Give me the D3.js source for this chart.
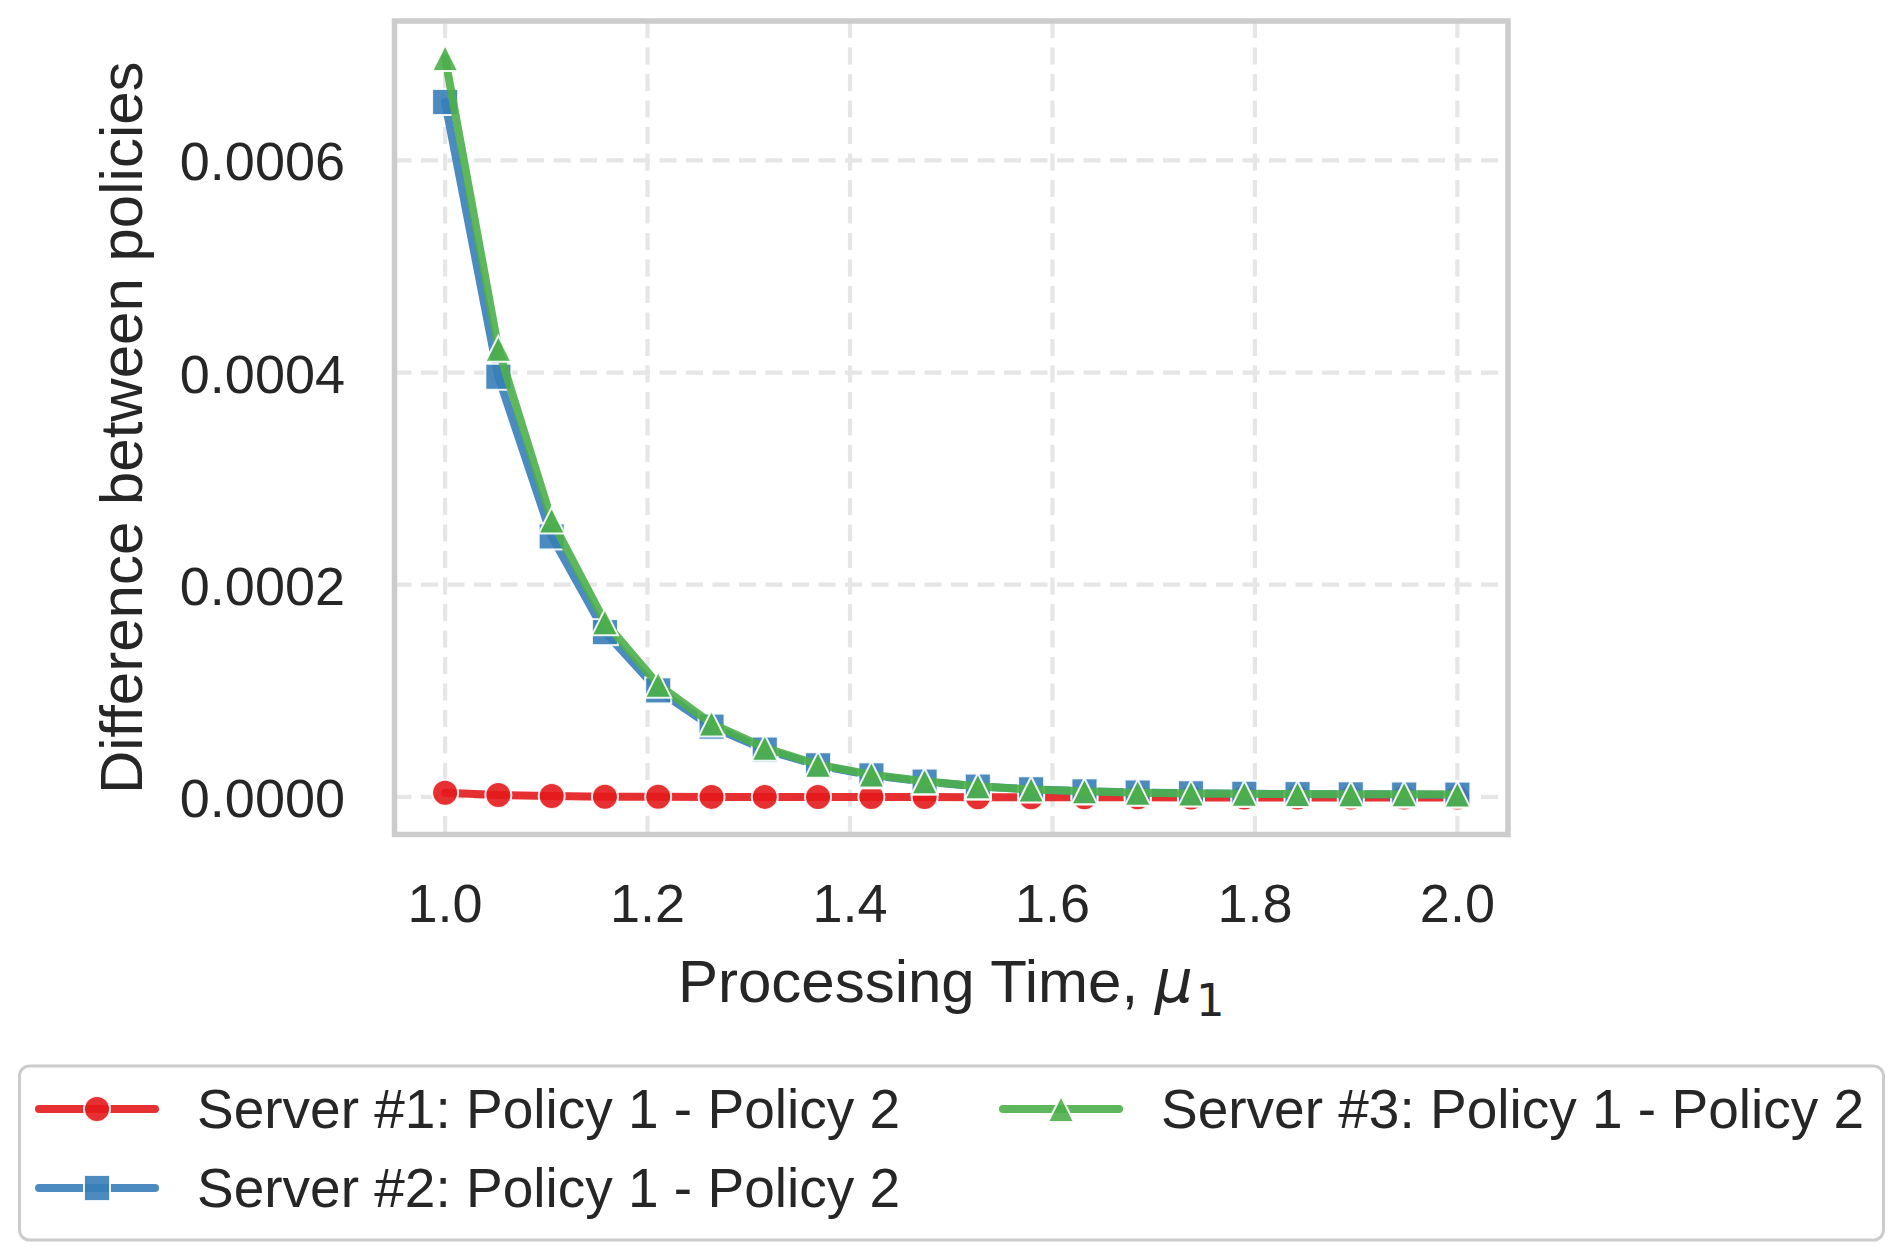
<html>
<head>
    <meta charset="UTF-8" />
    <title>Difference between policies</title>
    <script src="https://d3js.org/d3.v7.min.js"></script>
    <style>
        body { margin: 0; background: white; }
    </style>
</head>
<body>
    <svg id="chart" width="1897" height="1255"></svg>
    <script>
        // processing time mu_1 (20 runs from 1.0 to 2.0)
        const muValues = [1.0, 1.0526, 1.1053, 1.1579, 1.2105, 1.2632, 1.3158, 1.3684, 1.4211, 1.4737,
                          1.5263, 1.5789, 1.6316, 1.6842, 1.7368, 1.7895, 1.8421, 1.8947, 1.9474, 2.0];

        // Policy 1 - Policy 2 for every server
        const server1Diff = [0.0000040, 0.0000017, 0.0000008, 0.0000002, 0.0000001, 0.0, 0.0, -0.0000001, -0.0000002, -0.0000002,
                             -0.0000003, -0.0000003, -0.0000004, -0.0000004, -0.0000005, -0.0000005, -0.0000005, -0.0000005, -0.0000006, -0.0000006];
        const server2Diff = [0.000655, 0.000396, 0.0002455, 0.0001553, 0.0001004, 0.0000662, 0.0000446, 0.0000298, 0.0000203, 0.0000144,
                             0.0000097, 0.0000072, 0.0000052, 0.0000041, 0.0000034, 0.0000029, 0.0000026, 0.0000024, 0.0000022, 0.0000021];
        const server3Diff = [0.0006965, 0.0004224, 0.0002606, 0.0001647, 0.0001058, 0.0000691, 0.0000462, 0.0000304, 0.0000210, 0.0000147,
                             0.0000100, 0.0000069, 0.0000053, 0.0000040, 0.0000033, 0.0000029, 0.0000027, 0.0000025, 0.0000024, 0.0000023];

        const seriesNames = ["Server #1: Policy 1 - Policy 2", "Server #2: Policy 1 - Policy 2", "Server #3: Policy 1 - Policy 2"];
        const seriesColors = ["#e41a1c", "#377eb8", "#4daf4a"];
        const seriesMarkers = ["circle", "square", "triangle"];

        const xTicks = [1.0, 1.2, 1.4, 1.6, 1.8, 2.0];
        const yTicks = [0, 0.0002, 0.0004, 0.0006];

        let svg = d3.select("svg#chart");
        const font = "'Liberation Sans', Arial, sans-serif";
        const textColor = "#262626";

        // axes box
        const plot = {left: 394.5, right: 1508, top: 21, bottom: 834.5};

        const allSeries = [server1Diff, server2Diff, server3Diff];
        const xExt = d3.extent(muValues);
        const yExt = d3.extent(allSeries.flat());
        const xPad = (xExt[1] - xExt[0]) * 0.05;
        const yPad = (yExt[1] - yExt[0]) * 0.05;

        const xScale = d3.scaleLinear().domain([xExt[0] - xPad, xExt[1] + xPad]).range([plot.left, plot.right]);
        const yScale = d3.scaleLinear().domain([yExt[0] - yPad, yExt[1] + yPad]).range([plot.bottom, plot.top]);

        // grid
        let grid = svg.append("g").attr("id", "grid");
        xTicks.forEach( (t) => {
            grid.append("line")
                .attr("x1", xScale(t)).attr("x2", xScale(t))
                .attr("y1", plot.top).attr("y2", plot.bottom)
                .attr("stroke", "#e6e6e6").attr("stroke-width", 4.2)
                .attr("stroke-dasharray", "17,9.5");
        });
        yTicks.forEach( (t) => {
            grid.append("line")
                .attr("x1", plot.left).attr("x2", plot.right)
                .attr("y1", yScale(t)).attr("y2", yScale(t))
                .attr("stroke", "#e6e6e6").attr("stroke-width", 4.2)
                .attr("stroke-dasharray", "17,9.5");
        });

        // marker shapes, size ~26px like the figure
        const half = 13;
        function drawMarker(g, kind, cx, cy, color) {
            let m;
            if (kind == "circle") {
                m = g.append("circle").attr("cx", cx).attr("cy", cy).attr("r", half);
            } else if (kind == "square") {
                m = g.append("rect").attr("x", cx - half).attr("y", cy - half)
                     .attr("width", 2 * half).attr("height", 2 * half);
            } else {
                m = g.append("path")
                     .attr("d", `M${cx},${cy - half}L${cx + half},${cy + half}L${cx - half},${cy + half}Z`);
            }
            m.attr("fill", color).attr("fill-opacity", 0.9)
             .attr("stroke", "white").attr("stroke-opacity", 0.9).attr("stroke-width", 2);
        }

        // series: line then markers, one after another
        let lineGen = d3.line()
            .x( (d) => xScale(d[0]) )
            .y( (d) => yScale(d[1]) );

        let dataArea = svg.append("g").attr("id", "data");
        allSeries.forEach( (vals, s) => {
            let pts = muValues.map( (x, i) => [x, vals[i]] );
            let g = dataArea.append("g");
            g.append("path")
                .attr("d", lineGen(pts))
                .attr("fill", "none")
                .attr("stroke", seriesColors[s])
                .attr("stroke-opacity", 0.9)
                .attr("stroke-width", 8)
                .attr("stroke-linejoin", "round")
                .attr("stroke-linecap", "round");
            pts.forEach( (p) => {
                drawMarker(g, seriesMarkers[s], xScale(p[0]), yScale(p[1]), seriesColors[s]);
            });
        });

        // spines
        svg.append("rect")
            .attr("x", plot.left).attr("y", plot.top)
            .attr("width", plot.right - plot.left).attr("height", plot.bottom - plot.top)
            .attr("fill", "none").attr("stroke", "#cccccc").attr("stroke-width", 5.5);

        // tick labels
        xTicks.forEach( (t) => {
            svg.append("text")
                .attr("x", xScale(t)).attr("y", 921.5)
                .attr("text-anchor", "middle")
                .attr("font-family", font).attr("font-size", "54px")
                .attr("fill", textColor)
                .text(d3.format(".1f")(t));
        });
        yTicks.forEach( (t) => {
            svg.append("text")
                .attr("x", 345).attr("y", yScale(t))
                .attr("dy", "0.37em")
                .attr("text-anchor", "end")
                .attr("font-family", font).attr("font-size", "54px")
                .attr("fill", textColor)
                .text(d3.format(".4f")(t));
        });

        // axis titles
        let xLabel = svg.append("text")
            .attr("x", (plot.left + plot.right) / 2).attr("y", 1001.5)
            .attr("text-anchor", "middle")
            .attr("font-family", font).attr("font-size", "60px")
            .attr("fill", textColor);
        xLabel.append("tspan").text("Processing Time, ");
        xLabel.append("tspan")
            .attr("font-family", "'DejaVu Sans', sans-serif")
            .attr("font-style", "italic")
            .text("μ");
        xLabel.append("tspan")
            .attr("font-family", "'DejaVu Sans', sans-serif")
            .attr("font-size", "45px")
            .attr("dx", 3)
            .attr("dy", 14)
            .text("1");

        svg.append("text")
            .attr("transform", `translate(142,${(plot.top + plot.bottom) / 2}) rotate(-90)`)
            .attr("text-anchor", "middle")
            .attr("font-family", font).attr("font-size", "60px")
            .attr("fill", textColor)
            .text("Difference between policies");

        // legend (2 columns)
        let legend = svg.append("g").attr("id", "legend");
        legend.append("rect")
            .attr("x", 19.5).attr("y", 1066)
            .attr("width", 1864).attr("height", 174)
            .attr("rx", 10).attr("ry", 10)
            .attr("fill", "white").attr("fill-opacity", 0.8)
            .attr("stroke", "#cccccc").attr("stroke-width", 3);

        const colX = [39, 1003];
        const rowY = [1109, 1188];
        seriesNames.forEach( (name, i) => {
            let cx = colX[Math.floor(i / 2)];
            let cy = rowY[i % 2];
            let g = legend.append("g");
            g.append("line")
                .attr("x1", cx).attr("x2", cx + 116)
                .attr("y1", cy).attr("y2", cy)
                .attr("stroke", seriesColors[i]).attr("stroke-opacity", 0.9)
                .attr("stroke-width", 8).attr("stroke-linecap", "round");
            drawMarker(g, seriesMarkers[i], cx + 58, cy, seriesColors[i]);
            g.append("text")
                .attr("x", cx + 158).attr("y", cy)
                .attr("dy", "0.35em")
                .attr("font-family", font).attr("font-size", "55px")
                .attr("fill", textColor)
                .text(name);
        });
    </script>
</body>
</html>
